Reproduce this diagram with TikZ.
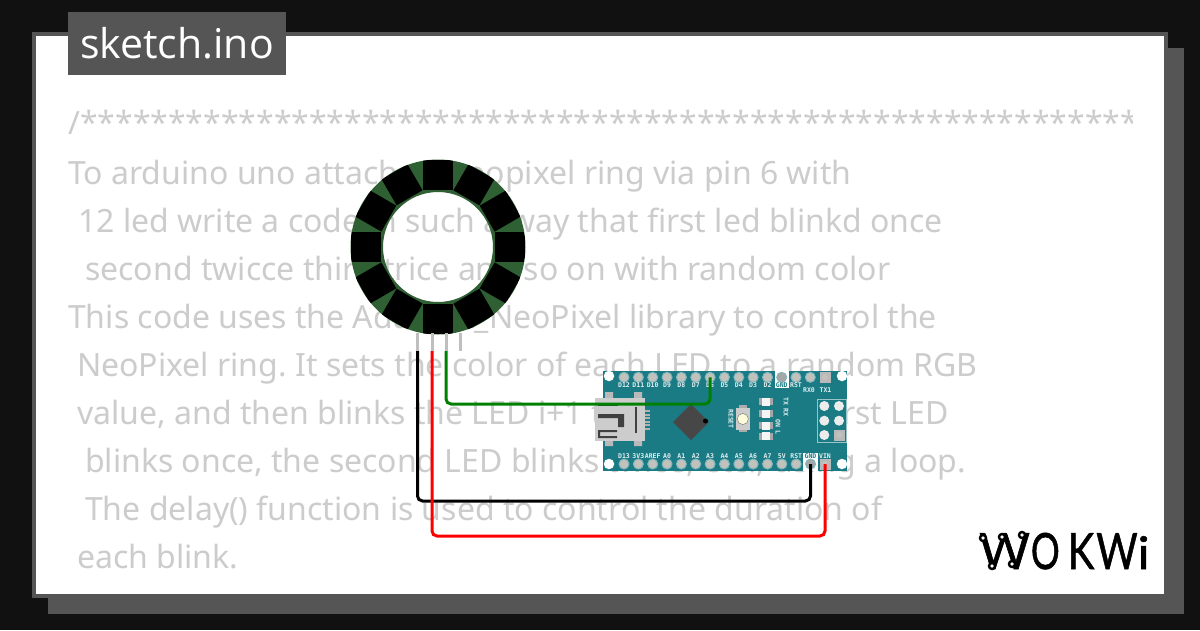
\documentclass[tikz,border=0pt]{standalone}
\usepackage{fontspec}
\setmainfont{Noto Sans}
\newfontfamily\lblfont{Open Sans}
\newfontfamily\pinfont{DejaVu Sans Mono}
\newfontfamily\logofont[FakeBold=1.2]{Lato}
\usetikzlibrary{calc}
\definecolor{pagebg}{HTML}{111111}
\definecolor{frame}{HTML}{555555}
\definecolor{codegray}{HTML}{CCCCCC}
\definecolor{ringgreen}{HTML}{2F6033}
\definecolor{boardteal}{HTML}{1A7B85}
\definecolor{pinmetal}{HTML}{C2C2BC}
\tikzset{
  codeline/.style={anchor=base west,inner sep=0pt,text=codegray,font=\fontsize{32}{32}\selectfont},
  wirestyle/.style={line width=3pt,rounded corners=5pt,line cap=butt},
  pinlabel/.style={inner sep=0pt,text=white!88!boardteal,font=\pinfont\bfseries\fontsize{6.5}{6.5}\selectfont},
  pinhole/.style={circle,fill=pinmetal,draw=white!45!boardteal,line width=1pt,minimum size=10pt,inner sep=0pt},
  pinsq/.style={rectangle,fill=gray!55!white,minimum size=11pt,inner sep=0pt},
  mount/.style={circle,fill=white,minimum size=10.5pt,inner sep=0pt},
  ledbody/.style={fill=white!92!gray},
  ledend/.style={fill=gray!70!white},
  stub/.style={line width=3pt,draw=gray!50!white},
}
\begin{document}
\frenchspacing
\begin{tikzpicture}[x=1pt,y=-1pt]
\useasboundingbox (0,0) rectangle (1200,630);
\fill[pagebg] (0,0) rectangle (1200,630);
\fill[frame] (48,48) rectangle (1184,614);
\fill[frame] (32,32) rectangle (1168,598);
\fill[white] (36,36) rectangle (1164,594);
% code text
\begin{scope}
\clip (60,100) rectangle (1132,150);
\node[codeline] (l0) at (68,134) {/****************************************************************};
\end{scope}
\node[codeline] (l1) at (68,184) {To arduino uno attach a \hspace{15pt}neopixel ring via pin 6 with};
\node[codeline] (l2) at (78,232) {12 led write a code in such a way that first led blinkd once};
\node[codeline] (l3) at (85,280) {second twicce third trice and so on with random color};
\node[codeline] (l4) at (68,328) {This code uses the Adafruit\_NeoPixel library to control the};
\node[codeline] (l5) at (77,376) {NeoPixel ring. It sets the color of each LED to a random RGB};
\node[codeline] (l6) at (77,424) {value, and then blinks the LED i+1 times. So, \hspace{20pt}the first LED};
\node[codeline] (l7) at (85,472) {blinks once, the second LED blinks twice, etc., using a loop.};
\node[codeline] (l8) at (85,520) {The delay() function is used to control the duration of};
\node[codeline] (l9) at (77,568) {each blink.};
% board
\fill[boardteal] (603,371) rectangle (847,471);
\fill[white] (775,371) rectangle (789,388);
\fill[white] (803,453) rectangle (818,471);
\foreach \n/\p in {a/609,b/842}{
  \node[mount] (hole\n t) at (\p,376) {};
  \node[mount] (hole\n b) at (\p,464) {};
}
\foreach \i/\lab in {0/D12,1/D11,2/D10,3/D9,4/D8,5/D7,6/D6,7/D5,8/D4,9/D3,10/D2}{
  \node[pinhole] (top\i) at ({624+14.35*\i},377.3) {};
  \node[pinlabel] (toplab\i) at ({624+14.35*\i},385) {\lab};
}
\node[pinhole,fill=gray!70!white] (topgnd) at (781.7,377.3) {};
\node[pinlabel,text=boardteal] (topgndlab) at (781.7,385) {GND};
\node[pinhole] (toprst) at (796,377.3) {};
\node[pinlabel] (toprstlab) at (796,385) {RST};
\node[pinhole] (toprx) at (810.3,377.3) {};
\node[pinlabel] (toprxlab) at (809,390.5) {RX0};
\node[pinsq] (toptx) at (825,377.3) {};
\node[pinhole,draw=none,minimum size=6pt] (toptxc) at (825,377.3) {};
\node[pinlabel] (toptxlab) at (825.5,390.5) {TX1};
\foreach \i/\lab in {0/D13,1/3V3,2/AREF,3/A0,4/A1,5/A2,6/A3,7/A4,8/A5,9/A6,10/A7,11/5V,12/RST}{
  \node[pinhole] (bot\i) at ({624+14.35*\i},464) {};
  \node[pinlabel] (botlab\i) at ({624+14.35*\i},456) {\lab};
}
\node[pinhole,fill=gray!70!white] (botgnd) at (810.5,464) {};
\node[pinlabel,text=boardteal] (botgndlab) at (810.5,456) {GND};
\node[pinsq] (botvin) at (825,464) {};
\node[pinhole,draw=none,minimum size=6pt] (botvinc) at (825,464) {};
\node[pinlabel] (botvinlab) at (825,456) {VIN};
% USB
\fill[gray!55!white] (605,392) rectangle (613,398) (634,392) rectangle (642,398)
  (605,441) rectangle (613,446) (634,441) rectangle (642,446);
\fill[gray!40!white] (595,398) rectangle (645,441);
\foreach \yy in {410,413.5,417,420.5,424,427.5}{\fill[gray!60!white] (645,\yy) rectangle (650,\yy+2);}
\fill[black!75] (598,404) rectangle (618,406);
\fill[black!75] (598,414) -- (624,414) -- (624,427) -- (618,427) -- (618,418) -- (598,418) -- cycle;
\fill[black!75] (598,430) rectangle (617,432) (598,430) rectangle (600,438) (598,436) rectangle (617,438);
\fill[black!75] (635,407) rectangle (636.5,433);
% chip
\fill[black!72] (691,404) -- (709,422) -- (691,440) -- (673,422) -- cycle;
\fill[black] (705.5,421) circle[radius=2.5];
% reset
\fill[gray!65!white] (739,405) rectangle (747,432);
\fill[gray!40!white] (735.5,408) rectangle (750,430);
\fill[black!8!yellow!15!white] (742.8,419) circle[radius=5.6];
\draw[gray,line width=.5pt] (742.8,419) circle[radius=5.6];
\node[pinlabel,rotate=-90] (resetlab) at (731,419) {RESET};
% LEDs
\foreach \k/\yy in {a/398,b/410,c/422,d/432.5}{
  \fill[ledend] (759,\yy) rectangle (773,\yy+7);
  \fill[ledbody] (762,\yy-.5) rectangle (770,\yy+7.5);
}
\node[pinlabel,rotate=-90] (txrx) at (786,407) {TX RX};
\node[pinlabel,rotate=-90] (onl) at (778,427) {ON L};
% ICSP
\draw[white!55!boardteal,line width=.7pt] (817.3,399) rectangle (846.7,442);
\foreach \n/\p/\q in {a/824.3/406,b/839/406,c/824.3/420.7,d/839/420.7,e/824.3/435}{
  \node[pinhole,draw=none,fill=white!85!gray] (icsp\n) at (\p,\q) {};
}
\node[pinsq] (icspf) at (839,435) {};
\node[pinhole,draw=none,minimum size=6pt] (icspfc) at (839,435) {};
% ring
\fill[ringgreen,even odd rule] (438,247) circle[radius=87.5] (438,247) circle[radius=55];
\begin{scope}
\clip (438,247) circle[radius=87.5];
\foreach \a in {0,30,...,330}{
  \node[rectangle,fill=black,minimum size=30pt,inner sep=0pt,rotate=-\a] (led\a) at ($(438,247)+(\a:71.8)$) {};
}
\end{scope}
% ring pins
\coordinate (rp1) at (417.5,351);
\coordinate (rp2) at (432,351);
\coordinate (rp3) at (446,351);
\coordinate (rp4) at (460,351);
\draw[stub] (417.5,333) -- (rp1);
\draw[stub] (432,333) -- (rp2);
\draw[stub] (446,333) -- (rp3);
\draw[stub] (460,333) -- (rp4);
% wires
\coordinate (kb) at (810.5,501);
\coordinate (rb) at (825,536);
\coordinate (gb) at (710,404);
\draw[wirestyle,black] (rp1) |- (kb) -- (botgnd.center);
\draw[wirestyle,red] (rp2) |- (rb) -- (botvin.center);
\draw[wirestyle,green!50!black] (rp3) |- (gb) -- (top6.center);
% logo
\node[anchor=base west,inner sep=0pt,text=black,font=\logofont\fontsize{50}{50}\selectfont] (logo) at (979,569)
  {\scalebox{.98}[1]{W}\kern1pt\scalebox{.72}[1]{O}\kern8pt\scalebox{.8}[1]{K}\kern2pt\scalebox{.8}[1]{W}\kern0pt\scalebox{1}[.9]{i}};
\foreach \n/\p/\q in {a/983/538,b/1002/537,c/1022/535,d/992/566,e/1012/564}{
  \draw[black,fill=white,line width=2.4pt] (\p,\q) circle[radius=3];
}
% title
\fill[frame] (68,12) rectangle (286,75);
\node[anchor=base,inner sep=0pt,text=white,font=\lblfont\fontsize{41}{41}\selectfont] (title) at (177,58) {sketch.ino};
\end{tikzpicture}
\end{document}
